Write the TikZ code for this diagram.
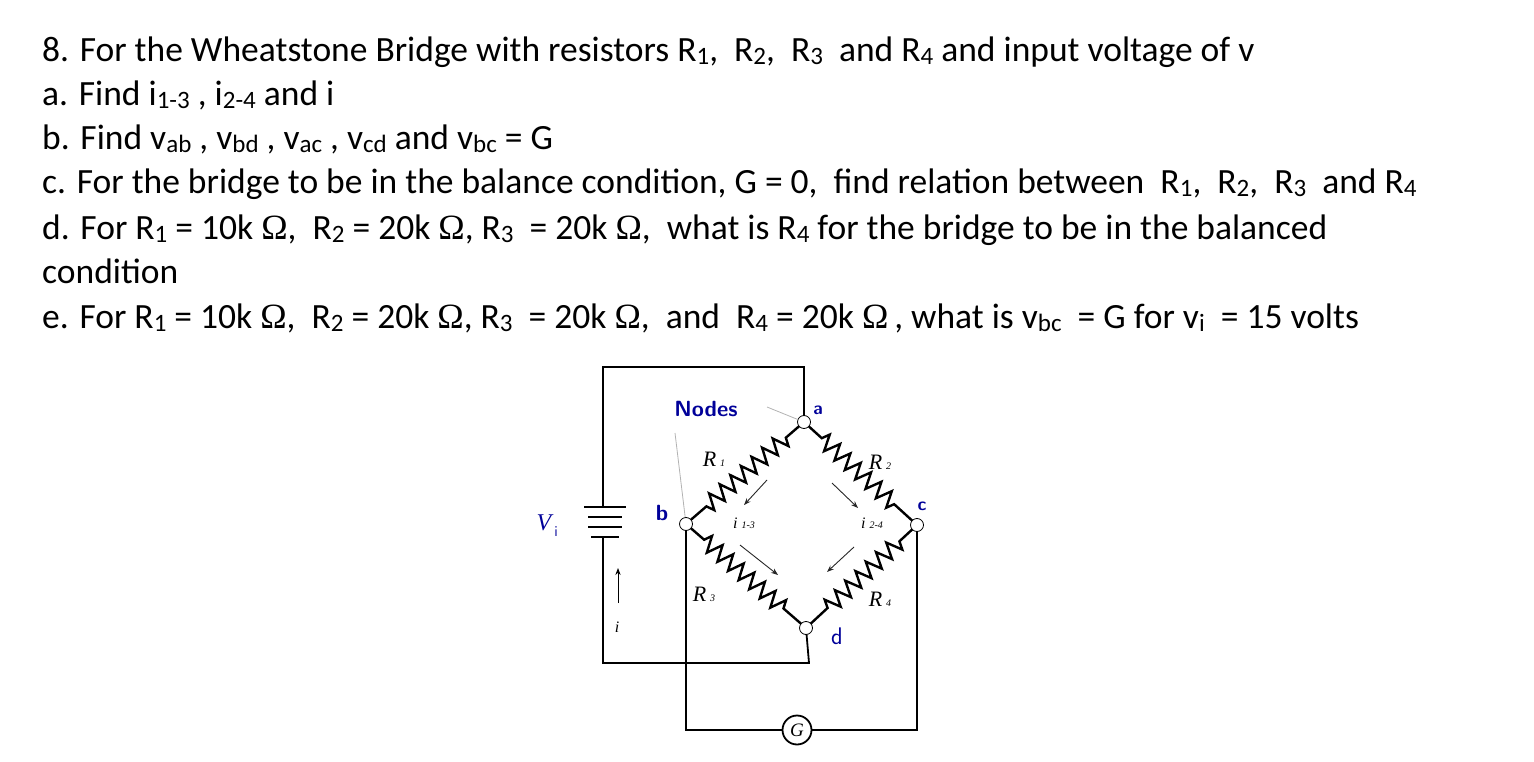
\documentclass[tikz,border=0pt]{standalone}
\usepackage{fontspec}
\setmainfont{Carlito}
\newfontfamily\serif{Liberation Serif}
\usetikzlibrary{decorations.pathmorphing,arrows.meta}
\newcommand{\lo}[1]{\raisebox{-3pt}{\fontsize{25}{25}\selectfont #1}}
\newcommand{\om}{{\serif Ω}}
\begin{document}
\begin{tikzpicture}[x=1pt,y=-1pt,
  txt/.style={anchor=base west,inner sep=0pt,font=\fontsize{35.5}{35.5}\selectfont},
  wire/.style={line width=1.8pt},
  res/.style={line width=2.4pt,decorate,decoration={zigzag,segment length=14pt,amplitude=8pt,pre length=24pt,post length=24pt}},
  term/.style={circle,draw,fill=white,line width=0.8pt,minimum size=13pt,inner sep=0pt},
  blu/.style={text=blue!60!black,font=\sffamily\bfseries\fontsize{22}{22}\selectfont},
  rl/.style={font=\serif\itshape\fontsize{22}{22}\selectfont},
  cur/.style={line width=0.9pt,-{Stealth[length=7pt]},gray!30!black}]
\useasboundingbox (0,0) rectangle (1534,762);
\node[txt] (t1) at (42,62) {8. For the Wheatstone Bridge with resistors R\lo{1},\ \ R\lo{2},\ \ R\lo{3}\ \ and R\lo{4} and input voltage of v};
\node[txt] (t2) at (42,106) {a. Find i\lo{1-3} , i\lo{2-4} and i};
\node[txt] (t3) at (42,150) {b. Find v\lo{ab} , v\lo{bd} , v\lo{ac} , v\lo{cd} and v\lo{bc} = G};
\node[txt] (t4) at (42,194) {c. For the bridge to be in the balance condition, G = 0,\ \ find relation between\ \ R\lo{1},\ \ R\lo{2},\ \ R\lo{3}\ \ and R\lo{4}};
\node[txt] (t5) at (42,240) {d. For R\lo{1} = 10k \om,\ \ R\lo{2} = 20k \om, R\lo{3}\ \ = 20k \om,\ \ what is R\lo{4} for the bridge to be in the balanced};
\node[txt] (t6) at (42,283) {condition};
\node[txt] (t7) at (42,328) {e. For R\lo{1} = 10k \om,\ \ R\lo{2} = 20k \om, R\lo{3}\ \ = 20k \om,\ \ and\ \ R\lo{4} = 20k \om\,, what is v\lo{bc}\ \ = G for v\lo{i}\ \ = 15 volts};
% circuit coordinates
\coordinate (a) at (804,422);
\coordinate (b) at (686,524);
\coordinate (c) at (917,525);
\coordinate (d) at (806,628);
\coordinate (tl) at (603,367);
\coordinate (ta) at (804,367);
\coordinate (bt) at (603,507);
\coordinate (bb) at (603,537);
\coordinate (bl) at (603,663);
\coordinate (br) at (809,663);
\coordinate (gl) at (686,730);
\coordinate (gr) at (917,730);
% wires
\draw[wire] (bt) -- (tl) -- (ta) -- (a);
\draw[wire] (bb) -- (bl) -- (br) -- (d);
\node[circle,draw,line width=1.8pt,fill=white,minimum size=29pt,inner sep=0pt,font=\serif\itshape\fontsize{19}{19}\selectfont] (G) at (797,730) {G};
\draw[wire] (b) -- (gl) -- (G);
\draw[wire] (G) -- (gr) -- (c);
% battery
\draw[line width=2pt] (584,507) -- (626,507) (588,517) -- (622,517) (588,527) -- (622,527) (591,537) -- (619,537);
\node[font=\serif\itshape\fontsize{24}{24}\selectfont,text=blue!60!black] (vi) at (544,523) {V};
\node[blu,font=\sffamily\fontsize{15}{15}\selectfont] (vis) at (556,532) {i};
\draw[line width=0.9pt,-{Stealth[length=7pt]}] (618,603) -- (618,568);
\node[rl,font=\serif\itshape\fontsize{16}{16}\selectfont] (il) at (617,627) {i};
% resistors
\draw[res] (a) -- (b);
\draw[res] (a) -- (c);
\draw[res] (b) -- (d);
\draw[res] (c) -- (d);
\node[term] (na) at (a) {};
\node[term] (nb) at (b) {};
\node[term] (nc) at (c) {};
\node[term] (nd) at (d) {};
% labels
\node[blu] (Nodes) at (706,409) {Nodes};
\node[blu,font=\sffamily\bfseries\fontsize{18}{18}\selectfont] (la) at (818,410) {a};
\node[blu] (lb) at (662,513) {b};
\node[blu,font=\sffamily\bfseries\fontsize{18}{18}\selectfont] (lc) at (922,506) {c};
\node[blu,font=\sffamily\fontsize{24}{24}\selectfont] (ld) at (837,636) {d};
\draw[gray!60,line width=0.8pt] (767,407) -- (na);
\draw[gray!60,line width=0.8pt] (675,433) -- (nb);
\node[rl] (r1) at (714,459) {R\,{\fontsize{10}{10}\selectfont 1}};
\node[rl] (r2) at (880,462) {R\,{\fontsize{10}{10}\selectfont 2}};
\node[rl] (r3) at (704,594) {R\,{\fontsize{10}{10}\selectfont 3}};
\node[rl] (r4) at (880,599) {R\,{\fontsize{10}{10}\selectfont 4}};
\node[rl,font=\serif\itshape\fontsize{16}{16}\selectfont] (i13) at (744,523) {i {\fontsize{10}{10}\selectfont 1-3}};
\node[rl,font=\serif\itshape\fontsize{16}{16}\selectfont] (i24) at (872,523) {i {\fontsize{10}{10}\selectfont 2-4}};
\coordinate (c1s) at (767,480); \coordinate (c1e) at (744,505);
\coordinate (c2s) at (832,483); \coordinate (c2e) at (858,508);
\coordinate (c3s) at (740,545); \coordinate (c3e) at (778,575);
\coordinate (c4s) at (854,547); \coordinate (c4e) at (827,572);
\draw[cur] (c1s) -- (c1e);
\draw[cur] (c2s) -- (c2e);
\draw[cur] (c3s) -- (c3e);
\draw[cur] (c4s) -- (c4e);
\end{tikzpicture}
\end{document}
